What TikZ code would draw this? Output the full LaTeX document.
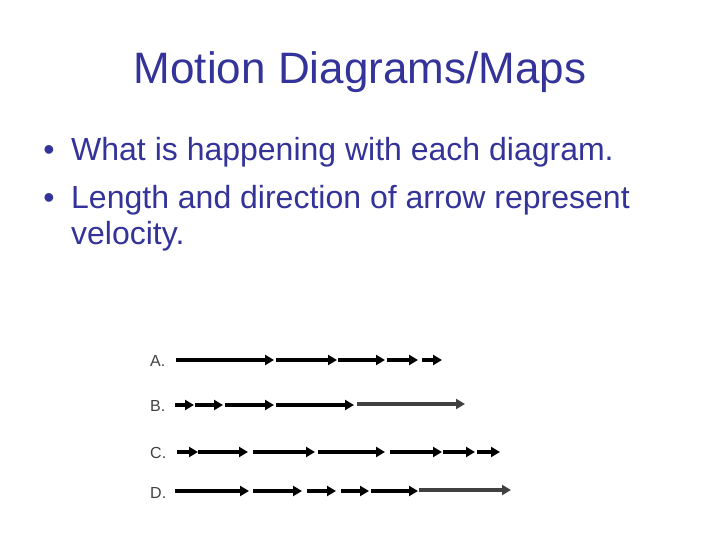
\documentclass[tikz,border=0pt]{standalone}
\usepackage{fontspec}
\setmainfont{Liberation Sans}
\usetikzlibrary{arrows.meta}
\definecolor{slideblue}{HTML}{333399}
\definecolor{labelgray}{HTML}{404040}
\begin{document}
\begin{tikzpicture}[x=1pt,y=-1pt,
  arr/.style={line width=3.8pt,-{Triangle[length=9pt,width=10pt]}},
  arrg/.style={arr,line width=3.5pt,draw=black!75,fill=black!75},
  lbl/.style={anchor=base west,inner sep=0pt,text=labelgray,font=\fontsize{16}{18}\selectfont},
  btxt/.style={anchor=base west,inner sep=0pt,text=slideblue,font=\fontsize{32}{36}\selectfont}]
\useasboundingbox (0,0) rectangle (720,540);
% title
\node[anchor=base,inner sep=0pt,text=slideblue,font=\fontsize{44}{50}\selectfont] (title) at (360,84) {Motion Diagrams/Maps};
% bullets
\node[btxt,anchor=base] (b1) at (49,161) {•};
\node[btxt] (t1) at (71,161) {What is happening with each diagram.};
\node[btxt,anchor=base] (b2) at (49,208) {•};
\node[btxt] (t2) at (71,208) {Length and direction of arrow represent};
\node[btxt] (t3) at (71,244) {velocity.};
% labels
\node[lbl] (la) at (150,366) {A.};
\node[lbl] (lb) at (150,411) {B.};
\node[lbl] (lc) at (150,458) {C.};
\node[lbl] (ld) at (150,498) {D.};
% row A
\draw[arr] (176,360) -- (274,360);
\draw[arr] (276,360) -- (337,360);
\draw[arr] (338,360) -- (385,360);
\draw[arr] (387,360) -- (418,360);
\draw[arr] (422,360) -- (442,360);
% row B
\draw[arr] (175,405) -- (194,405);
\draw[arr] (195,405) -- (223,405);
\draw[arr] (225,405) -- (274,405);
\draw[arr] (276,405) -- (354,405);
\draw[arrg] (357,404) -- (465,404);
% row C
\draw[arr,line width=4.5pt] (177,452) -- (198,452);
\draw[arr] (198,452) -- (248,452);
\draw[arr] (253,452) -- (315,452);
\draw[arr] (318,452) -- (385,452);
\draw[arr,line width=4.5pt] (390,452) -- (442,452);
\draw[arr] (443,452) -- (475,452);
\draw[arr] (477,452) -- (500,452);
% row D
\draw[arr] (175,491) -- (249,491);
\draw[arr] (253,491) -- (302,491);
\draw[arr] (307,491) -- (336,491);
\draw[arr] (341,491) -- (369,491);
\draw[arr] (371,491) -- (418,491);
\draw[arrg] (419,490) -- (511,490);
\end{tikzpicture}
\end{document}
